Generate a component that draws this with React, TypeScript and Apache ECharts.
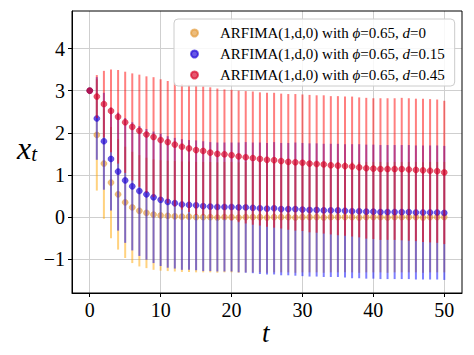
import React, { useEffect, useRef } from "react";
import * as echarts from "echarts";

const tValues: number[] = Array.from({ length: 51 }, (_, i) => i);
const xTicks = [0, 10, 20, 30, 40, 50];
const yTicks = [-1, 0, 1, 2, 3, 4];

const seriesNames = ["d=0", "d=0.15", "d=0.45"];
const dLabels = ["0", "0.15", "0.45"];

const meanD0 = [
  3.0, 1.95, 1.27, 0.82, 0.54, 0.35, 0.23, 0.15, 0.1, 0.06, 0.04,
  0.03, 0.02, 0.01, 0.01, 0.0, 0.0, 0.0, -0.01, 0.0, 0.0,
  -0.01, 0.0, 0.0, 0.0, -0.01, 0.0, 0.0, 0.0, -0.01, 0.0,
  0.0, 0.0, -0.01, 0.0, 0.0, 0.0, 0.0, -0.01, 0.0, 0.0,
  0.0, -0.01, 0.0, 0.0, 0.0, 0.0, -0.01, 0.0, 0.0, 0.0,
];
const errD0 = [
  0, 1.32, 1.31, 1.32, 1.31, 1.32, 1.32, 1.32, 1.31, 1.31, 1.31,
  1.31, 1.31, 1.31, 1.31, 1.31, 1.31, 1.31, 1.31, 1.31, 1.31,
  1.31, 1.31, 1.31, 1.31, 1.31, 1.31, 1.31, 1.31, 1.31, 1.31,
  1.31, 1.31, 1.31, 1.31, 1.31, 1.31, 1.31, 1.31, 1.31, 1.31,
  1.31, 1.31, 1.31, 1.31, 1.31, 1.31, 1.31, 1.31, 1.31, 1.31,
];

const meanD15 = [
  3.0, 2.34, 1.8, 1.38, 1.08, 0.87, 0.73, 0.62, 0.54, 0.47, 0.41,
  0.36, 0.33, 0.3, 0.29, 0.28, 0.26, 0.25, 0.24, 0.24, 0.24,
  0.23, 0.23, 0.22, 0.21, 0.2, 0.21, 0.19, 0.19, 0.19, 0.18,
  0.17, 0.17, 0.16, 0.16, 0.16, 0.15, 0.14, 0.14, 0.13, 0.13,
  0.12, 0.12, 0.12, 0.12, 0.12, 0.11, 0.11, 0.11, 0.11, 0.1,
];
const errD15 = [
  0, 0.98, 1.15, 1.22, 1.4, 1.48, 1.52, 1.54, 1.55, 1.56, 1.57,
  1.56, 1.55, 1.55, 1.54, 1.54, 1.54, 1.53, 1.53, 1.53, 1.53,
  1.54, 1.55, 1.55, 1.56, 1.56, 1.57, 1.57, 1.57, 1.58, 1.58,
  1.58, 1.58, 1.58, 1.58, 1.58, 1.58, 1.59, 1.59, 1.59, 1.59,
  1.59, 1.59, 1.59, 1.59, 1.59, 1.59, 1.59, 1.59, 1.59, 1.59,
];

const meanD45 = [
  3.0, 2.86, 2.68, 2.52, 2.38, 2.25, 2.14, 2.05, 1.96, 1.9, 1.83,
  1.78, 1.72, 1.67, 1.63, 1.59, 1.57, 1.53, 1.5, 1.49, 1.47,
  1.44, 1.42, 1.4, 1.38, 1.36, 1.35, 1.33, 1.31, 1.3, 1.29,
  1.27, 1.26, 1.25, 1.23, 1.22, 1.21, 1.2, 1.18, 1.16, 1.15,
  1.14, 1.14, 1.14, 1.14, 1.13, 1.12, 1.11, 1.1, 1.09, 1.06,
];
const errD45 = [
  0, 0.51, 0.79, 0.98, 1.11, 1.2, 1.27, 1.33, 1.38, 1.42, 1.44,
  1.45, 1.47, 1.49, 1.51, 1.54, 1.53, 1.55, 1.55, 1.54, 1.55,
  1.56, 1.57, 1.58, 1.58, 1.59, 1.6, 1.6, 1.61, 1.62, 1.62,
  1.63, 1.63, 1.64, 1.64, 1.65, 1.65, 1.66, 1.66, 1.67, 1.67,
  1.68, 1.68, 1.68, 1.69, 1.69, 1.69, 1.7, 1.7, 1.7, 1.7,
];

const means = [meanD0, meanD15, meanD45];
const errs = [errD0, errD15, errD45];
const barColors = ["rgba(255,165,0,0.5)", "rgba(0,0,255,0.5)", "rgba(255,0,0,0.5)"];
const dotColors = ["rgba(225,150,50,0.8)", "rgba(25,0,215,0.82)", "rgba(215,0,35,0.82)"];

const SERIF = "Liberation Serif";

const fmtNum = (v: number) => String(v).replace("-", "\u2212");

export default function App() {
  const ref = useRef<HTMLDivElement>(null);
  useEffect(() => {
    document.body.style.margin = "0";
    if (!ref.current) return;
    const chart = echarts.init(ref.current, undefined, { renderer: "svg" });
    const series: any[] = [];
    for (let k = 0; k < 3; k++) {
      const errData = tValues
        .map((t, i) => [t, means[k][i] - errs[k][i], means[k][i] + errs[k][i]])
        .filter((d, i) => errs[k][i] > 0);
      series.push({
        type: "custom",
        name: seriesNames[k] + " err",
        data: errData,
        encode: { x: 0, y: [1, 2] },
        silent: true,
        z: 2 * k + 1,
        renderItem: (params: any, api: any) => {
          const x = api.value(0);
          const p1 = api.coord([x, api.value(1)]);
          const p2 = api.coord([x, api.value(2)]);
          return {
            type: "line",
            shape: { x1: p1[0], y1: p1[1], x2: p2[0], y2: p2[1] },
            style: { stroke: barColors[k], lineWidth: 2 },
          };
        },
      });
      series.push({
        type: "scatter",
        name: seriesNames[k],
        z: 2 * k + 2,
        data: tValues.map((t, i) => [t, means[k][i]]),
        symbol: "circle",
        symbolSize: 6,
        itemStyle: { color: dotColors[k], borderColor: dotColors[k], borderWidth: 0.6 },
      });
    }
    const tok = { fontFamily: SERIF, fontSize: 15, lineHeight: 18, height: 18, color: "#000" };
    chart.setOption({
      animation: false,
      textStyle: { fontFamily: SERIF },
      grid: {
        left: 72,
        right: 12,
        top: 11,
        bottom: 62,
        show: true,
        borderColor: "#000",
        borderWidth: 1,
        backgroundColor: "transparent",
        z: 10,
      },
      legend: {
        data: seriesNames,
        orient: "vertical",
        left: 174,
        top: 19,
        z: 20,
        padding: [5, 10, 2, 16],
        itemGap: 3,
        itemWidth: 7,
        itemHeight: 7,
        backgroundColor: "rgba(255,255,255,0.85)",
        borderColor: "#cccccc",
        borderWidth: 1,
        borderRadius: 4,
        selectedMode: false,
        formatter: (name: string) => {
          const k = seriesNames.indexOf(name);
          return `{p| }{n|ARFIMA(1,d,0) with }{i|\u03D5}{n|=0.65, }{i|d}{n|=${dLabels[k]}}`;
        },
        textStyle: {
          ...tok,
          rich: {
            p: { ...tok, width: 17 },
            n: { ...tok },
            i: { ...tok, fontStyle: "italic" },
          },
        },
      },
      xAxis: {
        type: "value",
        min: -2.5,
        max: 52.5,
        minInterval: 10,
        maxInterval: 10,
        axisLine: { show: true, onZero: false, lineStyle: { color: "#000", width: 1 } },
        axisTick: { show: true, length: 4, customValues: xTicks, lineStyle: { color: "#000" } },
        axisLabel: {
          margin: 7,
          fontFamily: SERIF,
          fontSize: 20,
          color: "#000",
          customValues: xTicks,
          formatter: (v: number) => fmtNum(v),
        },
        splitLine: { show: true, lineStyle: { color: "#cfcfcf", width: 1 } },
      },
      yAxis: {
        type: "value",
        min: -1.8,
        max: 4.89,
        minInterval: 1,
        maxInterval: 1,
        axisLine: { show: true, onZero: false, lineStyle: { color: "#000", width: 1 } },
        axisTick: { show: true, length: 4, customValues: yTicks, lineStyle: { color: "#000" } },
        axisLabel: {
          margin: 7,
          fontFamily: SERIF,
          fontSize: 20,
          color: "#000",
          customValues: yTicks,
          formatter: (v: number) => fmtNum(v),
        },
        splitLine: { show: true, lineStyle: { color: "#cfcfcf", width: 1 } },
      },
      graphic: [
        {
          type: "text",
          left: 17,
          top: 132,
          style: {
            text: "{x|x}{s|t}",
            rich: {
              x: { fontFamily: SERIF, fontSize: 32, fontStyle: "italic", fill: "#000" },
              s: { fontFamily: SERIF, fontSize: 21, fontStyle: "italic", fill: "#000", padding: [12, 0, 0, 0] },
            },
          },
        },
        {
          type: "text",
          left: 262,
          top: 319,
          style: {
            text: "t",
            fontFamily: SERIF,
            fontSize: 27,
            fontStyle: "italic",
            fill: "#000",
          },
        },
      ],
      series,
    });
    return () => chart.dispose();
  }, []);
  return <div ref={ref} style={{ width: 474, height: 355 }} />;
}
